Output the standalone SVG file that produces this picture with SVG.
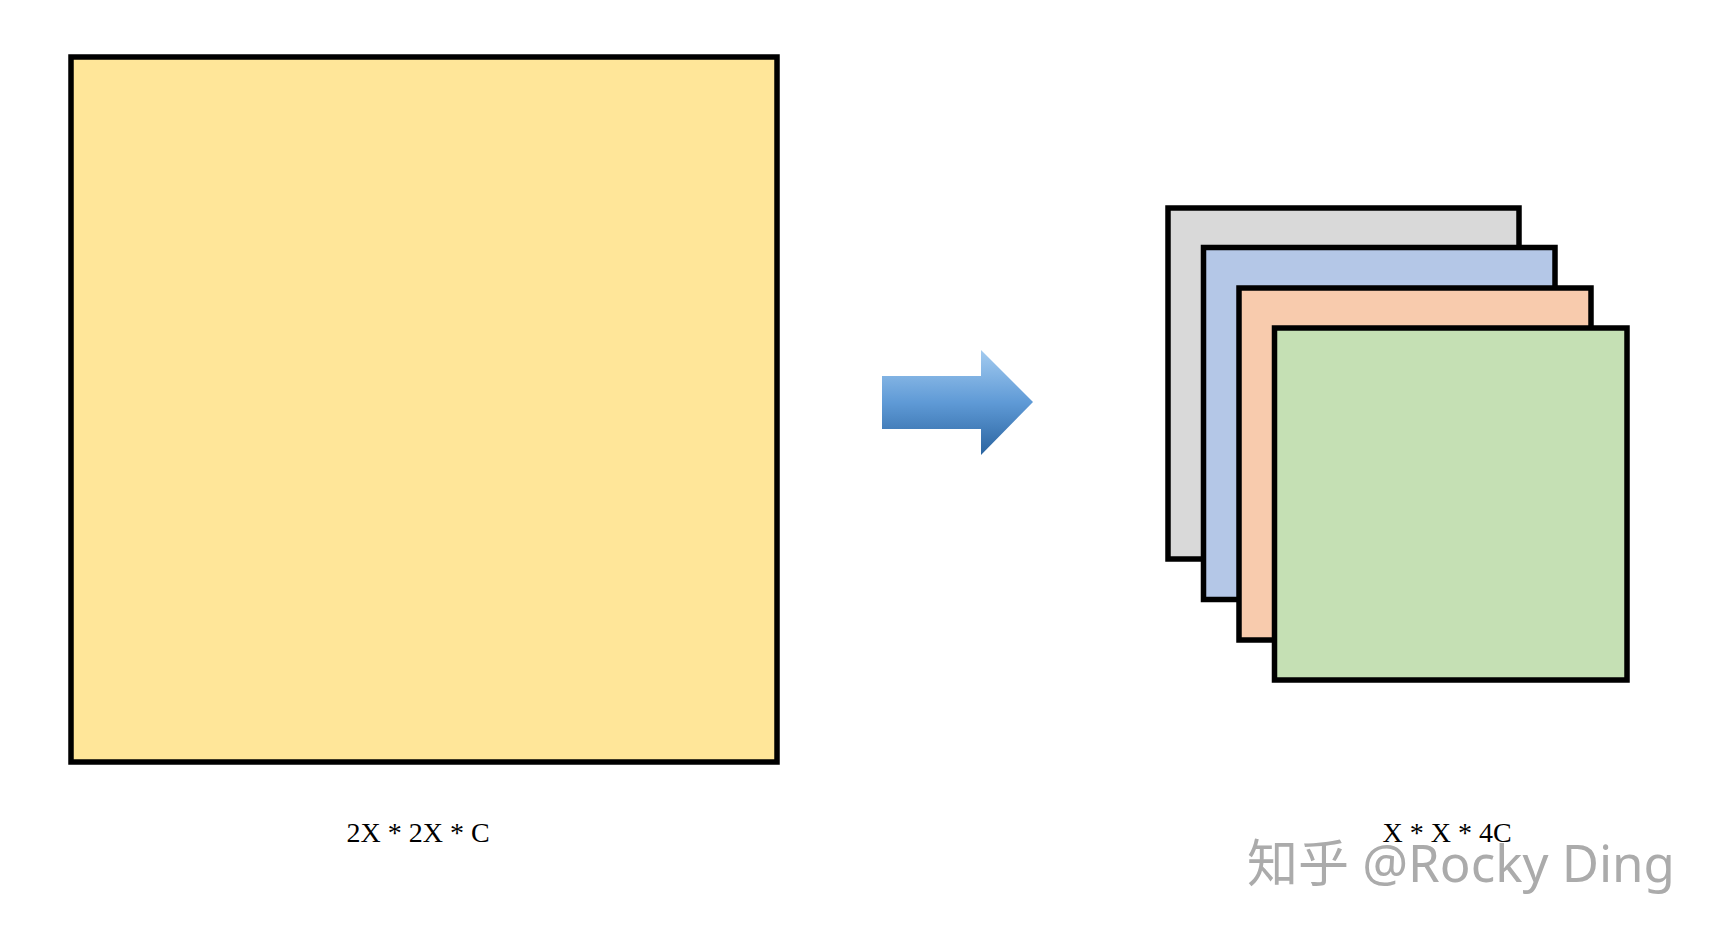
<svg xmlns="http://www.w3.org/2000/svg" width="1720" height="940" viewBox="0 0 1720 940">
  <style>
    .box { stroke: #000; stroke-width: 5.5; }
    .lbl { font-family: "Liberation Serif", "Times New Roman", serif; font-size: 28px; fill: #000; text-anchor: middle; }
    .wm { font-family: "Noto Sans", "Noto Sans CJK SC", sans-serif; font-size: 51px; fill: #ababab; }
  </style>
  <defs>
    <linearGradient id="arrowGrad" x1="0" y1="0" x2="0" y2="1">
      <stop offset="0" stop-color="#a3cbf0"/>
      <stop offset="0.5" stop-color="#5f9ad6"/>
      <stop offset="1" stop-color="#2a64a0"/>
    </linearGradient>
  </defs>
  <rect width="1720" height="940" fill="#ffffff"/>

  <g id="input-map">
    <rect class="box" x="71" y="57" width="706" height="705" fill="#ffe699"/>
    <text class="lbl" x="418" y="842">2X * 2X * C</text>
  </g>

  <g id="connectors">
    <path id="arrow" d="M882,376 L981,376 L981,350 L1033,402 L981,455 L981,429 L882,429 Z" fill="url(#arrowGrad)"/>
  </g>

  <g id="output-stack">
    <rect class="box" x="1168" y="208" width="351" height="351" fill="#d9d9d9"/>
    <rect class="box" x="1203.5" y="247.5" width="351.5" height="352" fill="#b4c7e7"/>
    <rect class="box" x="1239" y="288" width="352" height="352" fill="#f8cbad"/>
    <rect class="box" x="1274.5" y="328" width="352.5" height="352" fill="#c5e0b4"/>
    <text class="lbl" x="1447" y="842">X * X * 4C</text>
  </g>

  <g id="watermark">
    <text class="wm" x="1247" y="882">知乎 @Rocky Ding</text>
  </g>
</svg>
